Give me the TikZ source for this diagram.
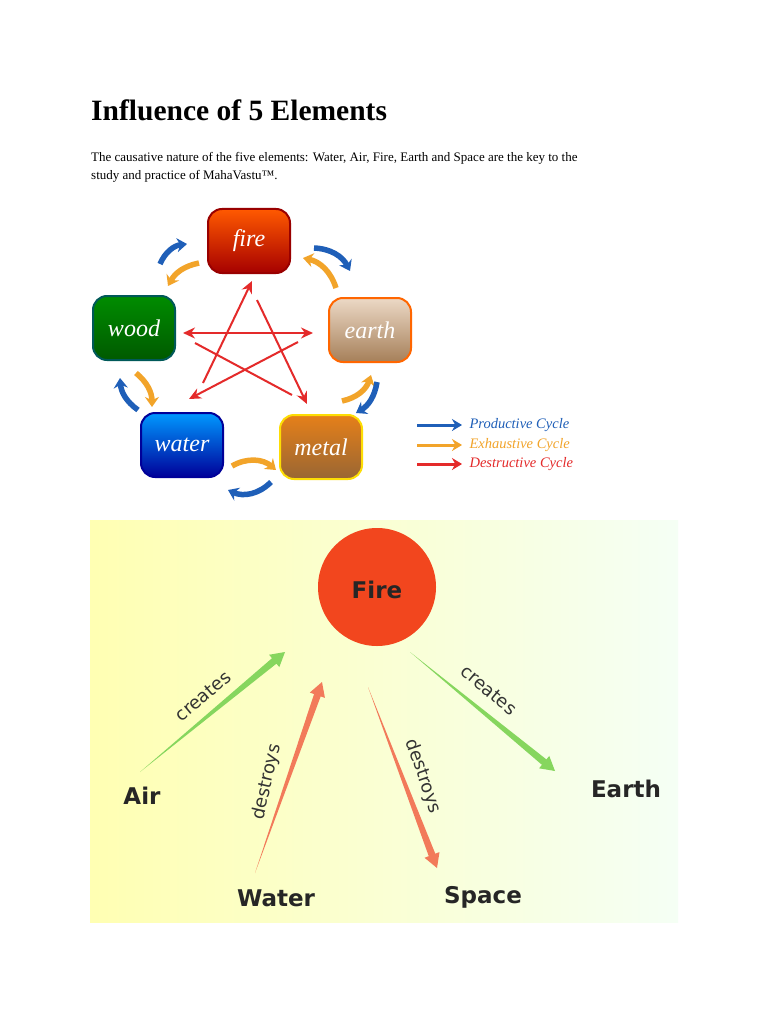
\documentclass[tikz,border=0pt]{standalone}
\usepackage{fontspec}
\setmainfont{Liberation Serif}
\newfontfamily\dv{DejaVu Sans}
\usetikzlibrary{calc,arrows.meta,shadings}
\definecolor{pblue}{HTML}{1F5FB8}
\definecolor{porange}{HTML}{F2A42A}
\definecolor{pred}{HTML}{E42A2A}
\definecolor{cgreen}{HTML}{86D65E}
\definecolor{csalmon}{HTML}{F27A5A}
\definecolor{fireball}{HTML}{F2461E}
\tikzset{
  elem/.style={rounded corners=14pt,minimum width=82pt,minimum height=64pt,line width=2pt,
    text=white,font=\itshape\fontsize{24}{24}\selectfont},
  cyc/.style={line width=5.5pt,-{Stealth[length=10pt,width=14pt]}},
  dest/.style={draw=pred,line width=2pt,-{Stealth[length=12pt,width=11pt]}},
  leg/.style={anchor=west,font=\itshape\fontsize{14.5}{14.5}\selectfont},
  big/.style={font=\dv\bfseries\fontsize{23}{23}\selectfont,text=black!85},
  verb/.style={font=\dv\fontsize{18}{18}\selectfont,text=black!80,inner sep=1pt},
}
\newcommand{\taperarrow}[3]{%
  \fill[#3] (#1) -- ($($(#2)!14pt!(#1)$)!3.5pt!90:(#2)$) -- ($($(#2)!14pt!(#1)$)!8pt!90:(#2)$) -- (#2)
   -- ($($(#2)!14pt!(#1)$)!8pt!-90:(#2)$) -- ($($(#2)!14pt!(#1)$)!3.5pt!-90:(#2)$) -- cycle;}
\begin{document}
\begin{tikzpicture}[x=1pt,y=-1pt]
\useasboundingbox (0,0) rectangle (768,1024);
\fill[white] (0,0) rectangle (768,1024);
\node[anchor=base west,font=\bfseries\fontsize{29.5}{29.5}\selectfont,inner sep=0] (title) at (91,121) {Influence of 5 Elements};
\node[anchor=base west,font=\fontsize{13}{13}\selectfont,inner sep=0] (l1) at (91,162) {The causative nature of the five elements: Water, Air, Fire, Earth and Space are the key to the};
\node[anchor=base west,font=\fontsize{13}{13}\selectfont,inner sep=0] (l2) at (91,180) {study and practice of MahaVastu™.};
% element boxes
\node[elem,draw=red!60!black,top color=orange!70!red,bottom color=red!65!black] (fire) at (249,241) {fire};
\node[elem,draw=orange!80!red,top color=brown!30!white,bottom color=brown!60!gray] (earth) at (370,330) {earth};
\node[elem,draw=teal!70!black,top color=green!55!black,bottom color=green!35!black] (wood) at (134,328) {wood};
\node[elem,draw=blue!60!black,top color=cyan!60!blue,bottom color=blue!60!black] (water) at (182,445) {water};
\node[elem,draw=yellow!80!orange,top color=orange!60!brown,bottom color=brown!80!black] (metal) at (321,447) {metal};
% destructive star
\coordinate (s1) at (203,383); \coordinate (s2) at (252,281);
\coordinate (s3) at (257,300); \coordinate (s4) at (307,404);
\coordinate (s5) at (183,333); \coordinate (s6) at (313,333);
\coordinate (s7) at (298,342); \coordinate (s8) at (189,399);
\coordinate (s9) at (195,343); \coordinate (s10) at (292,395);
\draw[dest] (s1) -- (s2);
\draw[dest] (s3) -- (s4);
\draw[dest,{Stealth[length=12pt,width=11pt]}-{Stealth[length=12pt,width=11pt]}] (s5) -- (s6);
\draw[dest] (s7) -- (s8);
\draw[draw=pred,line width=2pt] (s9) -- (s10);
% cycle arrows
\coordinate (a1) at (160,264); \coordinate (a2) at (187,244);
\coordinate (a3) at (199,263); \coordinate (a4) at (168,286);
\draw[cyc,pblue] (a1) to[bend left=30] (a2);
\draw[cyc,porange] (a3) to[bend right=25] (a4);
\coordinate (b1) at (314,248); \coordinate (b2) at (350,271);
\coordinate (b3) at (336,288); \coordinate (b4) at (303,258);
\draw[cyc,pblue] (b1) to[bend left=30] (b2);
\draw[cyc,porange] (b3) to[bend right=30] (b4);
\coordinate (c1) at (342,401); \coordinate (c2) at (371,375);
\coordinate (c3) at (377,382); \coordinate (c4) at (356,413);
\draw[cyc,porange] (c1) to[bend right=30] (c2);
\draw[cyc,pblue] (c3) to[bend left=25] (c4);
\coordinate (d1) at (232,466); \coordinate (d2) at (276,470);
\coordinate (d3) at (271,482); \coordinate (d4) at (228,490);
\draw[cyc,porange] (d1) to[bend left=35] (d2);
\draw[cyc,pblue] (d3) to[bend left=35] (d4);
\coordinate (e1) at (136,373); \coordinate (e2) at (152,407);
\coordinate (e3) at (138,410); \coordinate (e4) at (120,378);
\draw[cyc,porange] (e1) to[bend left=25] (e2);
\draw[cyc,pblue] (e3) to[bend left=25] (e4);
% legend
\coordinate (g1) at (417,425); \coordinate (g2) at (462,425);
\coordinate (g3) at (417,445); \coordinate (g4) at (462,445);
\coordinate (g5) at (417,464); \coordinate (g6) at (462,464);
\draw[pblue,line width=3pt,-{Stealth[length=10pt,width=12pt]}] (g1) -- (g2);
\draw[porange,line width=3pt,-{Stealth[length=10pt,width=12pt]}] (g3) -- (g4);
\draw[pred,line width=3pt,-{Stealth[length=10pt,width=12pt]}] (g5) -- (g6);
\node[leg,text=pblue] (lg1) at (466,425) {Productive Cycle};
\node[leg,text=porange] (lg2) at (466,445) {Exhaustive Cycle};
\node[leg,text=pred] (lg3) at (466,464) {Destructive Cycle};
% bottom panel
\shade[left color=yellow!30!white,right color=green!4!white] (90,520) rectangle (678,922);
\node[circle,fill=fireball,minimum size=118pt,inner sep=0] (Fire) at (377,587) {};
\node[big] (firet) at (377,590) {Fire};
\coordinate (h1) at (140,772); \coordinate (h2) at (285,652);
\coordinate (h3) at (255,873); \coordinate (h4) at (322,682);
\coordinate (h5) at (368,687); \coordinate (h6) at (437,868);
\coordinate (h7) at (410,652); \coordinate (h8) at (555,771);
\taperarrow{h1}{h2}{cgreen}
\taperarrow{h3}{h4}{csalmon}
\taperarrow{h5}{h6}{csalmon}
\taperarrow{h7}{h8}{cgreen}
\node[verb,rotate=40] (v1) at (203,696) {creates};
\node[verb,rotate=77] (v2) at (267,782) {destroys};
\node[verb,rotate=-71] (v3) at (423,776) {destroys};
\node[verb,rotate=-40] (v4) at (489,690) {creates};
\node[big] (air) at (142,796) {Air};
\node[big] (wat) at (276,898) {Water};
\node[big] (spa) at (483,897) {Space};
\node[big] (ear) at (626,789) {Earth};
\end{tikzpicture}
\end{document}
